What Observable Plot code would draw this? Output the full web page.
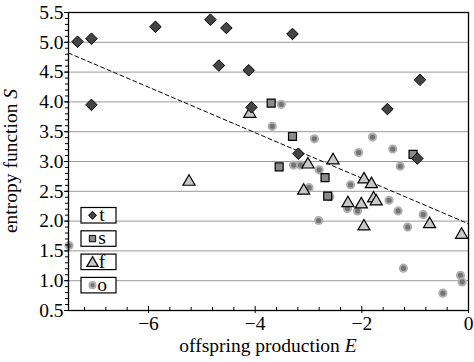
<!DOCTYPE html>
<html>
<head>
<meta charset="utf-8">
<script src="https://cdn.jsdelivr.net/npm/d3@7"></script>
<script src="https://cdn.jsdelivr.net/npm/@observablehq/plot@0.6"></script>
<style>
  html, body { margin: 0; padding: 0; background: #fff; }
  #chart { width: 474px; height: 362px; }
  #chart svg, #chart svg text { font-family: "Liberation Serif", "Times New Roman", serif; }
</style>
</head>
<body>
<div id="chart"></div>
<script>
// ---- data ----
const tE = [-7.33, -7.07, -7.07, -5.87, -4.84, -4.54, -4.68, -4.12, -3.30, -4.07, -0.91, -1.52, -3.19, -0.96];
const tS = [5.01, 5.06, 3.95, 5.26, 5.38, 5.24, 4.61, 4.53, 5.14, 3.91, 4.37, 3.88, 3.13, 3.05];

const sE = [-3.70, -3.30, -3.55, -2.69, -2.64, -1.04];
const sS = [3.98, 3.42, 2.91, 2.73, 2.42, 3.12];

const fE = [-4.10, -5.24, -3.01, -3.09, -2.54, -1.96, -1.82, -1.78, -1.73, -2.26, -2.01, -1.96, -0.73, -0.13];
const fS = [3.80, 2.66, 2.95, 2.51, 3.02, 2.70, 2.62, 2.38, 2.33, 2.30, 2.28, 1.91, 1.95, 1.77];

const oE = [-7.49, -3.51, -3.68, -2.89, -1.80, -2.06, -1.42, -1.28, -3.28, -3.15, -2.80, -2.99, -2.60, -2.21, -1.49, -2.27, -2.08, -1.32, -0.85, -1.14, -2.81, -1.22, -0.15, -0.12, -0.48];
const oS = [1.59, 3.96, 3.59, 3.38, 3.41, 3.15, 3.21, 2.92, 2.94, 2.94, 2.86, 2.56, 2.41, 2.61, 2.35, 2.21, 2.17, 2.17, 2.11, 1.90, 2.01, 1.21, 1.09, 0.98, 0.79];

// dashed trend line end points
const fitE = [-7.5, 0];
const fitS = [4.82, 1.955];

const groups = ["t", "s", "f", "o"];
const xMajor = [-6, -4, -2, 0];
const xMinor = [-7.2, -6.8, -6.4, -5.6, -5.2, -4.8, -4.4, -3.6, -3.2, -2.8, -2.4, -1.6, -1.2, -0.8, -0.4];
const yMajor = [0.5, 1.0, 1.5, 2.0, 2.5, 3.0, 3.5, 4.0, 4.5, 5.0, 5.5];
const yGrid = [1.0, 1.5, 2.0, 2.5, 3.0, 3.5, 4.0, 4.5, 5.0];
const yMinor = d3.range(5, 56).map(v => v / 10);

const zip = (xs, ys) => xs.map((x, i) => ({E: x, S: ys[i]}));
const tData = zip(tE, tS), sData = zip(sE, sS), fData = zip(fE, fS), oData = zip(oE, oS);
const fitData = zip(fitE, fitS);

const FONT = "\"Liberation Serif\", \"Times New Roman\", serif";
const FS = 19.5;
const W = 474, H = 362, ML = 68, MR = 6, MT = 12, MB = 52;

const minus = d => d < 0 ? "\u2212" + Math.abs(d) : String(d);

const chart = Plot.plot({
  width: W, height: H,
  marginLeft: ML, marginRight: MR, marginTop: MT, marginBottom: MB,
  style: {fontFamily: FONT, fontSize: FS + "px", background: "white", color: "black"},
  x: {domain: [-7.5, 0], label: null},
  y: {domain: [0.5, 5.5], label: null},
  marks: [
    Plot.gridY(yGrid, {stroke: "#999", strokeOpacity: 1, strokeWidth: 1}),
    Plot.line(fitData, {x: "E", y: "S", stroke: "black", strokeWidth: 1, strokeDasharray: "4,3"}),
    Plot.dot(oData, {x: "E", y: "S", r: 3.6, fill: "#747474", stroke: "#b0b0b0", strokeWidth: 2}),
    Plot.dot(fData, {x: "E", y: "S", symbol: "triangle", r: 4.5, fill: "#c8c8c8", stroke: "black", strokeWidth: 1.2}),
    Plot.dot(sData, {x: "E", y: "S", symbol: "square", r: 4.5, fill: "#8a8a8a", stroke: "black", strokeWidth: 1.2}),
    Plot.dot(tData, {x: "E", y: "S", symbol: "diamond2", r: 5.2, fill: "#444", stroke: "black", strokeWidth: 1}),
    Plot.axisY(yMinor, {tickSize: 3, tickFormat: () => "", stroke: "black", label: null}),
    Plot.axisY(yMajor, {tickSize: 4, tickPadding: 1, tickFormat: d => d.toFixed(1), fontSize: FS, fontFamily: FONT, label: null}),
    Plot.tickX(xMinor, {x: d => d, insetTop: H - MT - MB - 3, stroke: "black"}),
    Plot.tickX(xMajor, {x: d => d, insetTop: H - MT - MB - 4, stroke: "black"}),
    Plot.axisX(xMajor, {tickSize: 3, tickPadding: 3, tickFormat: minus, fontSize: FS, fontFamily: FONT, label: null}),
    Plot.frame({stroke: "black", strokeWidth: 1.3})
  ]
});

document.getElementById("chart").appendChild(chart);

// ---- axis titles and legend (drawn into the same SVG) ----
const svg = d3.select(chart);
const ylab = svg.append("text")
  .attr("transform", `translate(17, ${MT + (H - MT - MB) / 2}) rotate(-90)`)
  .attr("text-anchor", "middle")
  .style("font-family", FONT).style("font-size", FS + "px").attr("fill", "black");
ylab.append("tspan").text("entropy function ");
ylab.append("tspan").style("font-style", "italic").text("S");

const xlab = svg.append("text")
  .attr("x", ML + (W - ML - MR) / 2).attr("y", 352)
  .attr("text-anchor", "middle")
  .style("font-family", FONT).style("font-size", FS + "px").attr("fill", "black");
xlab.append("tspan").text("offspring production ");
xlab.append("tspan").style("font-style", "italic").text("E");

const legendStyles = {
  t: {sym: d3.symbolDiamond2, size: 40, fill: "#444", stroke: "black", sw: 1},
  s: {sym: d3.symbolSquare, size: 40, fill: "#8a8a8a", stroke: "black", sw: 1},
  f: {sym: d3.symbolTriangle, size: 55, fill: "#c8c8c8", stroke: "black", sw: 1.2},
  o: {sym: d3.symbolCircle, size: 30, fill: "#747474", stroke: "#b0b0b0", sw: 2}
};
const lg = svg.append("g");
groups.forEach((g, i) => {
  const y0 = 207.5 + i * 23.3;
  const item = lg.append("g").attr("transform", `translate(81, ${y0})`);
  item.append("rect").attr("width", 35).attr("height", 15.5)
    .attr("fill", "white").attr("stroke", "black").attr("stroke-width", 1.2);
  const st = legendStyles[g];
  item.append("path").attr("d", d3.symbol(st.sym, st.size)())
    .attr("transform", `translate(11.5, ${g === "f" ? 9 : 7.8})`)
    .attr("fill", st.fill).attr("stroke", st.stroke).attr("stroke-width", st.sw);
  item.append("text").attr("x", 21).attr("y", 13.5)
    .style("font-family", FONT).style("font-size", FS + "px").attr("fill", "black").text(g);
});
</script>
</body>
</html>
